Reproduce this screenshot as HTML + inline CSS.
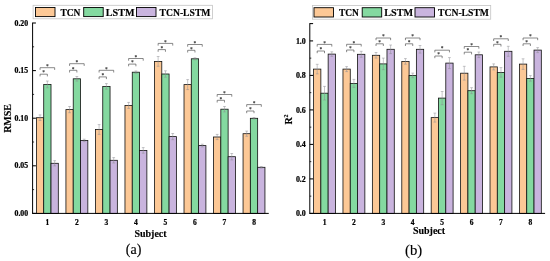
<!DOCTYPE html>
<html><head><meta charset="utf-8"><title>Figure</title>
<style>
html,body{margin:0;padding:0;background:#fff;}
svg{display:block}
text{font-family:"Liberation Serif",serif;fill:#000}
.tk{font-size:7.5px;font-weight:bold;stroke:#000;stroke-width:0.22px}
.lg{font-size:10px;font-weight:bold;stroke:#000;stroke-width:0.15px}
.ax{font-size:10px;font-weight:bold;stroke:#000;stroke-width:0.15px}
.cap{font-size:14px;stroke:#000;stroke-width:0.15px}
.st{font-size:5.5px;text-anchor:middle;fill:#2a2a2a;font-weight:bold}
</style></head><body>
<svg width="550" height="261" viewBox="0 0 550 261">
<rect width="550" height="261" fill="#fff"/>
<rect x="36.41" y="117.70" width="7.3" height="95.70" fill="#FCC896" stroke="#111" stroke-width="0.8"/>
<rect x="43.71" y="84.40" width="7.3" height="129.00" fill="#84D9A0" stroke="#111" stroke-width="0.8"/>
<rect x="51.01" y="163.30" width="7.3" height="50.10" fill="#C9B4DE" stroke="#111" stroke-width="0.8"/>
<path d="M40.06 114.90V120.50M38.66 114.90h2.8M38.66 120.50h2.8" stroke="#8c8c92" stroke-width="0.5" fill="none"/>
<path d="M47.36 81.00V87.80M45.96 81.00h2.8M45.96 87.80h2.8" stroke="#8c8c92" stroke-width="0.5" fill="none"/>
<path d="M54.66 160.70V165.90M53.26 160.70h2.8M53.26 165.90h2.8" stroke="#8c8c92" stroke-width="0.5" fill="none"/>
<path d="M40.06 76.40V74.20H47.36V76.40M40.06 69.90V67.70H54.66V69.90" stroke="#4a4a4a" stroke-width="0.65" fill="none"/>
<text x="43.71" y="74.40" class="st">*</text>
<text x="47.36" y="67.90" class="st">*</text>
<text x="47.36" y="224.60" class="tk" text-anchor="middle">1</text>
<rect x="65.93" y="109.60" width="7.3" height="103.80" fill="#FCC896" stroke="#111" stroke-width="0.8"/>
<rect x="73.23" y="78.80" width="7.3" height="134.60" fill="#84D9A0" stroke="#111" stroke-width="0.8"/>
<rect x="80.53" y="140.40" width="7.3" height="73.00" fill="#C9B4DE" stroke="#111" stroke-width="0.8"/>
<path d="M69.58 106.50V112.70M68.18 106.50h2.8M68.18 112.70h2.8" stroke="#8c8c92" stroke-width="0.5" fill="none"/>
<path d="M76.88 76.50V81.10M75.48 76.50h2.8M75.48 81.10h2.8" stroke="#8c8c92" stroke-width="0.5" fill="none"/>
<path d="M84.18 139.20V141.60M82.78 139.20h2.8M82.78 141.60h2.8" stroke="#8c8c92" stroke-width="0.5" fill="none"/>
<path d="M69.58 72.50V70.30H76.88V72.50M69.58 65.90V63.70H84.18V65.90" stroke="#4a4a4a" stroke-width="0.65" fill="none"/>
<text x="73.23" y="70.50" class="st">*</text>
<text x="76.88" y="63.90" class="st">*</text>
<text x="76.88" y="224.60" class="tk" text-anchor="middle">2</text>
<rect x="95.45" y="129.50" width="7.3" height="83.90" fill="#FCC896" stroke="#111" stroke-width="0.8"/>
<rect x="102.75" y="86.40" width="7.3" height="127.00" fill="#84D9A0" stroke="#111" stroke-width="0.8"/>
<rect x="110.05" y="160.30" width="7.3" height="53.10" fill="#C9B4DE" stroke="#111" stroke-width="0.8"/>
<path d="M99.10 124.60V134.40M97.70 124.60h2.8M97.70 134.40h2.8" stroke="#8c8c92" stroke-width="0.5" fill="none"/>
<path d="M106.40 83.60V89.20M105.00 83.60h2.8M105.00 89.20h2.8" stroke="#8c8c92" stroke-width="0.5" fill="none"/>
<path d="M113.70 157.60V163.00M112.30 157.60h2.8M112.30 163.00h2.8" stroke="#8c8c92" stroke-width="0.5" fill="none"/>
<path d="M99.10 79.10V76.90H106.40V79.10M99.10 72.50V70.30H113.70V72.50" stroke="#4a4a4a" stroke-width="0.65" fill="none"/>
<text x="102.75" y="77.10" class="st">*</text>
<text x="106.40" y="70.50" class="st">*</text>
<text x="106.40" y="224.60" class="tk" text-anchor="middle">3</text>
<rect x="124.97" y="105.40" width="7.3" height="108.00" fill="#FCC896" stroke="#111" stroke-width="0.8"/>
<rect x="132.27" y="72.20" width="7.3" height="141.20" fill="#84D9A0" stroke="#111" stroke-width="0.8"/>
<rect x="139.57" y="150.40" width="7.3" height="63.00" fill="#C9B4DE" stroke="#111" stroke-width="0.8"/>
<path d="M128.62 102.40V108.40M127.22 102.40h2.8M127.22 108.40h2.8" stroke="#8c8c92" stroke-width="0.5" fill="none"/>
<path d="M135.92 71.00V73.40M134.52 71.00h2.8M134.52 73.40h2.8" stroke="#8c8c92" stroke-width="0.5" fill="none"/>
<path d="M143.22 147.60V153.20M141.82 147.60h2.8M141.82 153.20h2.8" stroke="#8c8c92" stroke-width="0.5" fill="none"/>
<path d="M128.62 66.30V64.10H135.92V66.30M128.62 60.70V58.50H143.22V60.70" stroke="#4a4a4a" stroke-width="0.65" fill="none"/>
<text x="132.27" y="64.30" class="st">*</text>
<text x="135.92" y="58.70" class="st">*</text>
<text x="135.92" y="224.60" class="tk" text-anchor="middle">4</text>
<rect x="154.49" y="61.40" width="7.3" height="152.00" fill="#FCC896" stroke="#111" stroke-width="0.8"/>
<rect x="161.79" y="74.00" width="7.3" height="139.40" fill="#84D9A0" stroke="#111" stroke-width="0.8"/>
<rect x="169.09" y="136.60" width="7.3" height="76.80" fill="#C9B4DE" stroke="#111" stroke-width="0.8"/>
<path d="M158.14 56.50V66.30M156.74 56.50h2.8M156.74 66.30h2.8" stroke="#8c8c92" stroke-width="0.5" fill="none"/>
<path d="M165.44 70.80V77.20M164.04 70.80h2.8M164.04 77.20h2.8" stroke="#8c8c92" stroke-width="0.5" fill="none"/>
<path d="M172.74 133.50V139.70M171.34 133.50h2.8M171.34 139.70h2.8" stroke="#8c8c92" stroke-width="0.5" fill="none"/>
<path d="M158.14 51.80V49.60H165.44V51.80M158.14 45.60V43.40H172.74V45.60" stroke="#4a4a4a" stroke-width="0.65" fill="none"/>
<text x="161.79" y="49.80" class="st">*</text>
<text x="165.44" y="43.60" class="st">*</text>
<text x="165.44" y="224.60" class="tk" text-anchor="middle">5</text>
<rect x="184.01" y="84.60" width="7.3" height="128.80" fill="#FCC896" stroke="#111" stroke-width="0.8"/>
<rect x="191.31" y="58.80" width="7.3" height="154.60" fill="#84D9A0" stroke="#111" stroke-width="0.8"/>
<rect x="198.61" y="145.60" width="7.3" height="67.80" fill="#C9B4DE" stroke="#111" stroke-width="0.8"/>
<path d="M187.66 79.60V89.60M186.26 79.60h2.8M186.26 89.60h2.8" stroke="#8c8c92" stroke-width="0.5" fill="none"/>
<path d="M194.96 57.80V59.80M193.56 57.80h2.8M193.56 59.80h2.8" stroke="#8c8c92" stroke-width="0.5" fill="none"/>
<path d="M202.26 144.20V147.00M200.86 144.20h2.8M200.86 147.00h2.8" stroke="#8c8c92" stroke-width="0.5" fill="none"/>
<path d="M187.66 52.50V50.30H194.96V52.50M187.66 46.70V44.50H202.26V46.70" stroke="#4a4a4a" stroke-width="0.65" fill="none"/>
<text x="191.31" y="50.50" class="st">*</text>
<text x="194.96" y="44.70" class="st">*</text>
<text x="194.96" y="224.60" class="tk" text-anchor="middle">6</text>
<rect x="213.53" y="137.00" width="7.3" height="76.40" fill="#FCC896" stroke="#111" stroke-width="0.8"/>
<rect x="220.83" y="109.20" width="7.3" height="104.20" fill="#84D9A0" stroke="#111" stroke-width="0.8"/>
<rect x="228.13" y="156.70" width="7.3" height="56.70" fill="#C9B4DE" stroke="#111" stroke-width="0.8"/>
<path d="M217.18 134.40V139.60M215.78 134.40h2.8M215.78 139.60h2.8" stroke="#8c8c92" stroke-width="0.5" fill="none"/>
<path d="M224.48 106.50V111.90M223.08 106.50h2.8M223.08 111.90h2.8" stroke="#8c8c92" stroke-width="0.5" fill="none"/>
<path d="M231.78 153.50V159.90M230.38 153.50h2.8M230.38 159.90h2.8" stroke="#8c8c92" stroke-width="0.5" fill="none"/>
<path d="M217.18 102.50V100.30H224.48V102.50M217.18 96.70V94.50H231.78V96.70" stroke="#4a4a4a" stroke-width="0.65" fill="none"/>
<text x="220.83" y="100.50" class="st">*</text>
<text x="224.48" y="94.70" class="st">*</text>
<text x="224.48" y="224.60" class="tk" text-anchor="middle">7</text>
<rect x="243.05" y="133.70" width="7.3" height="79.70" fill="#FCC896" stroke="#111" stroke-width="0.8"/>
<rect x="250.35" y="118.30" width="7.3" height="95.10" fill="#84D9A0" stroke="#111" stroke-width="0.8"/>
<rect x="257.65" y="167.30" width="7.3" height="46.10" fill="#C9B4DE" stroke="#111" stroke-width="0.8"/>
<path d="M246.70 131.10V136.30M245.30 131.10h2.8M245.30 136.30h2.8" stroke="#8c8c92" stroke-width="0.5" fill="none"/>
<path d="M254.00 117.50V119.10M252.60 117.50h2.8M252.60 119.10h2.8" stroke="#8c8c92" stroke-width="0.5" fill="none"/>
<path d="M261.30 166.50V168.10M259.90 166.50h2.8M259.90 168.10h2.8" stroke="#8c8c92" stroke-width="0.5" fill="none"/>
<path d="M246.70 113.20V111.00H254.00V113.20M246.70 106.80V104.60H261.30V106.80" stroke="#4a4a4a" stroke-width="0.65" fill="none"/>
<text x="250.35" y="111.20" class="st">*</text>
<text x="254.00" y="104.80" class="st">*</text>
<text x="254.00" y="224.60" class="tk" text-anchor="middle">8</text>
<path d="M32.60 22.60V213.40M32.10 213.40H268.76" stroke="#000" stroke-width="1" fill="none"/>
<path d="M32.60 213.40h3.3" stroke="#000" stroke-width="1.05"/>
<path d="M32.60 165.80h3.3" stroke="#000" stroke-width="1.05"/>
<path d="M32.60 118.20h3.3" stroke="#000" stroke-width="1.05"/>
<path d="M32.60 70.60h3.3" stroke="#000" stroke-width="1.05"/>
<path d="M32.60 23.00h3.3" stroke="#000" stroke-width="1.05"/>
<path d="M32.60 189.60h1.5" stroke="#000" stroke-width="0.8"/>
<path d="M32.60 142.00h1.5" stroke="#000" stroke-width="0.8"/>
<path d="M32.60 94.40h1.5" stroke="#000" stroke-width="0.8"/>
<path d="M32.60 46.80h1.5" stroke="#000" stroke-width="0.8"/>
<text x="14.50" y="216.00" class="tk" textLength="13.7" lengthAdjust="spacingAndGlyphs">0.00</text>
<text x="14.50" y="168.40" class="tk" textLength="13.7" lengthAdjust="spacingAndGlyphs">0.05</text>
<text x="14.50" y="120.80" class="tk" textLength="13.7" lengthAdjust="spacingAndGlyphs">0.10</text>
<text x="14.50" y="73.20" class="tk" textLength="13.7" lengthAdjust="spacingAndGlyphs">0.15</text>
<text x="14.50" y="25.60" class="tk" textLength="13.7" lengthAdjust="spacingAndGlyphs">0.20</text>
<rect x="33.1" y="5.3" width="179.3" height="13.5" fill="#fff" stroke="#c4c4c4" stroke-width="0.8"/>
<rect x="35.50" y="7.50" width="19.5" height="9.1" fill="#FCC896" stroke="#000" stroke-width="0.9"/>
<rect x="83.70" y="7.50" width="19.5" height="9.1" fill="#84D9A0" stroke="#000" stroke-width="0.9"/>
<rect x="136.50" y="7.50" width="19.5" height="9.1" fill="#C9B4DE" stroke="#000" stroke-width="0.9"/>
<text x="60.40" y="15.50" class="lg" textLength="20.0" lengthAdjust="spacingAndGlyphs">TCN</text>
<text x="105.80" y="15.50" class="lg" textLength="28.8" lengthAdjust="spacingAndGlyphs">LSTM</text>
<text x="159.50" y="15.50" class="lg" textLength="51.0" lengthAdjust="spacingAndGlyphs">TCN-LSTM</text>
<text transform="translate(11,118.4) rotate(-90)" class="ax" text-anchor="middle">RMSE</text>
<text x="150.5" y="236.6" class="ax" text-anchor="middle">Subject</text>
<text x="133.6" y="254.1" class="cap" text-anchor="middle">(a)</text>
<rect x="313.56" y="69.10" width="7.3" height="144.30" fill="#FCC896" stroke="#111" stroke-width="0.8"/>
<rect x="320.86" y="93.20" width="7.3" height="120.20" fill="#84D9A0" stroke="#111" stroke-width="0.8"/>
<rect x="328.15" y="54.10" width="7.3" height="159.30" fill="#C9B4DE" stroke="#111" stroke-width="0.8"/>
<path d="M317.20 64.30V73.90M315.81 64.30h2.8M315.81 73.90h2.8" stroke="#8c8c92" stroke-width="0.5" fill="none"/>
<path d="M324.50 86.40V100.00M323.11 86.40h2.8M323.11 100.00h2.8" stroke="#8c8c92" stroke-width="0.5" fill="none"/>
<path d="M331.80 51.80V56.40M330.40 51.80h2.8M330.40 56.40h2.8" stroke="#8c8c92" stroke-width="0.5" fill="none"/>
<path d="M317.20 53.20V51.00H324.50V53.20M317.20 46.60V44.40H331.80V46.60" stroke="#4a4a4a" stroke-width="0.65" fill="none"/>
<text x="320.86" y="51.20" class="st">*</text>
<text x="324.50" y="44.60" class="st">*</text>
<text x="324.50" y="224.60" class="tk" text-anchor="middle">1</text>
<rect x="342.97" y="69.10" width="7.3" height="144.30" fill="#FCC896" stroke="#111" stroke-width="0.8"/>
<rect x="350.27" y="83.40" width="7.3" height="130.00" fill="#84D9A0" stroke="#111" stroke-width="0.8"/>
<rect x="357.56" y="54.30" width="7.3" height="159.10" fill="#C9B4DE" stroke="#111" stroke-width="0.8"/>
<path d="M346.62 66.60V71.60M345.22 66.60h2.8M345.22 71.60h2.8" stroke="#8c8c92" stroke-width="0.5" fill="none"/>
<path d="M353.92 79.40V87.40M352.52 79.40h2.8M352.52 87.40h2.8" stroke="#8c8c92" stroke-width="0.5" fill="none"/>
<path d="M361.21 51.30V57.30M359.81 51.30h2.8M359.81 57.30h2.8" stroke="#8c8c92" stroke-width="0.5" fill="none"/>
<path d="M346.62 52.20V50.00H353.92V52.20M346.62 46.50V44.30H361.21V46.50" stroke="#4a4a4a" stroke-width="0.65" fill="none"/>
<text x="350.26" y="50.20" class="st">*</text>
<text x="353.91" y="44.50" class="st">*</text>
<text x="353.92" y="224.60" class="tk" text-anchor="middle">2</text>
<rect x="372.38" y="55.30" width="7.3" height="158.10" fill="#FCC896" stroke="#111" stroke-width="0.8"/>
<rect x="379.68" y="63.90" width="7.3" height="149.50" fill="#84D9A0" stroke="#111" stroke-width="0.8"/>
<rect x="386.98" y="49.30" width="7.3" height="164.10" fill="#C9B4DE" stroke="#111" stroke-width="0.8"/>
<path d="M376.03 52.50V58.10M374.63 52.50h2.8M374.63 58.10h2.8" stroke="#8c8c92" stroke-width="0.5" fill="none"/>
<path d="M383.33 58.10V69.70M381.93 58.10h2.8M381.93 69.70h2.8" stroke="#8c8c92" stroke-width="0.5" fill="none"/>
<path d="M390.62 45.00V53.60M389.23 45.00h2.8M389.23 53.60h2.8" stroke="#8c8c92" stroke-width="0.5" fill="none"/>
<path d="M376.03 46.00V43.80H383.33V46.00M376.03 40.20V38.00H390.62V40.20" stroke="#4a4a4a" stroke-width="0.65" fill="none"/>
<text x="379.68" y="44.00" class="st">*</text>
<text x="383.33" y="38.20" class="st">*</text>
<text x="383.33" y="224.60" class="tk" text-anchor="middle">3</text>
<rect x="401.79" y="61.40" width="7.3" height="152.00" fill="#FCC896" stroke="#111" stroke-width="0.8"/>
<rect x="409.09" y="75.40" width="7.3" height="138.00" fill="#84D9A0" stroke="#111" stroke-width="0.8"/>
<rect x="416.38" y="49.30" width="7.3" height="164.10" fill="#C9B4DE" stroke="#111" stroke-width="0.8"/>
<path d="M405.44 58.60V64.20M404.04 58.60h2.8M404.04 64.20h2.8" stroke="#8c8c92" stroke-width="0.5" fill="none"/>
<path d="M412.74 73.10V77.70M411.34 73.10h2.8M411.34 77.70h2.8" stroke="#8c8c92" stroke-width="0.5" fill="none"/>
<path d="M420.03 45.50V53.10M418.63 45.50h2.8M418.63 53.10h2.8" stroke="#8c8c92" stroke-width="0.5" fill="none"/>
<path d="M405.44 46.00V43.80H412.74V46.00M405.44 40.20V38.00H420.03V40.20" stroke="#4a4a4a" stroke-width="0.65" fill="none"/>
<text x="409.09" y="44.00" class="st">*</text>
<text x="412.74" y="38.20" class="st">*</text>
<text x="412.74" y="224.60" class="tk" text-anchor="middle">4</text>
<rect x="431.19" y="117.60" width="7.3" height="95.80" fill="#FCC896" stroke="#111" stroke-width="0.8"/>
<rect x="438.50" y="98.10" width="7.3" height="115.30" fill="#84D9A0" stroke="#111" stroke-width="0.8"/>
<rect x="445.79" y="63.10" width="7.3" height="150.30" fill="#C9B4DE" stroke="#111" stroke-width="0.8"/>
<path d="M434.84 113.10V122.10M433.44 113.10h2.8M433.44 122.10h2.8" stroke="#8c8c92" stroke-width="0.5" fill="none"/>
<path d="M442.14 91.50V104.70M440.75 91.50h2.8M440.75 104.70h2.8" stroke="#8c8c92" stroke-width="0.5" fill="none"/>
<path d="M449.44 57.60V68.60M448.04 57.60h2.8M448.04 68.60h2.8" stroke="#8c8c92" stroke-width="0.5" fill="none"/>
<path d="M434.84 58.20V56.00H442.14V58.20M434.84 52.40V50.20H449.44V52.40" stroke="#4a4a4a" stroke-width="0.65" fill="none"/>
<text x="438.50" y="56.20" class="st">*</text>
<text x="442.14" y="50.40" class="st">*</text>
<text x="442.14" y="224.60" class="tk" text-anchor="middle">5</text>
<rect x="460.61" y="73.20" width="7.3" height="140.20" fill="#FCC896" stroke="#111" stroke-width="0.8"/>
<rect x="467.91" y="90.70" width="7.3" height="122.70" fill="#84D9A0" stroke="#111" stroke-width="0.8"/>
<rect x="475.20" y="54.80" width="7.3" height="158.60" fill="#C9B4DE" stroke="#111" stroke-width="0.8"/>
<path d="M464.25 66.30V80.10M462.86 66.30h2.8M462.86 80.10h2.8" stroke="#8c8c92" stroke-width="0.5" fill="none"/>
<path d="M471.56 87.70V93.70M470.16 87.70h2.8M470.16 93.70h2.8" stroke="#8c8c92" stroke-width="0.5" fill="none"/>
<path d="M478.85 52.00V57.60M477.45 52.00h2.8M477.45 57.60h2.8" stroke="#8c8c92" stroke-width="0.5" fill="none"/>
<path d="M464.25 54.40V52.20H471.56V54.40M464.25 48.70V46.50H478.85V48.70" stroke="#4a4a4a" stroke-width="0.65" fill="none"/>
<text x="467.90" y="52.40" class="st">*</text>
<text x="471.55" y="46.70" class="st">*</text>
<text x="471.56" y="224.60" class="tk" text-anchor="middle">6</text>
<rect x="490.02" y="66.90" width="7.3" height="146.50" fill="#FCC896" stroke="#111" stroke-width="0.8"/>
<rect x="497.32" y="72.40" width="7.3" height="141.00" fill="#84D9A0" stroke="#111" stroke-width="0.8"/>
<rect x="504.62" y="51.30" width="7.3" height="162.10" fill="#C9B4DE" stroke="#111" stroke-width="0.8"/>
<path d="M493.67 63.90V69.90M492.27 63.90h2.8M492.27 69.90h2.8" stroke="#8c8c92" stroke-width="0.5" fill="none"/>
<path d="M500.97 67.60V77.20M499.57 67.60h2.8M499.57 77.20h2.8" stroke="#8c8c92" stroke-width="0.5" fill="none"/>
<path d="M508.26 46.30V56.30M506.87 46.30h2.8M506.87 56.30h2.8" stroke="#8c8c92" stroke-width="0.5" fill="none"/>
<path d="M493.67 46.50V44.30H500.97V46.50M493.67 41.00V38.80H508.26V41.00" stroke="#4a4a4a" stroke-width="0.65" fill="none"/>
<text x="497.32" y="44.50" class="st">*</text>
<text x="500.97" y="39.00" class="st">*</text>
<text x="500.97" y="224.60" class="tk" text-anchor="middle">7</text>
<rect x="519.42" y="64.10" width="7.3" height="149.30" fill="#FCC896" stroke="#111" stroke-width="0.8"/>
<rect x="526.73" y="78.40" width="7.3" height="135.00" fill="#84D9A0" stroke="#111" stroke-width="0.8"/>
<rect x="534.02" y="50.10" width="7.3" height="163.30" fill="#C9B4DE" stroke="#111" stroke-width="0.8"/>
<path d="M523.07 58.80V69.40M521.67 58.80h2.8M521.67 69.40h2.8" stroke="#8c8c92" stroke-width="0.5" fill="none"/>
<path d="M530.38 75.60V81.20M528.98 75.60h2.8M528.98 81.20h2.8" stroke="#8c8c92" stroke-width="0.5" fill="none"/>
<path d="M537.67 47.60V52.60M536.27 47.60h2.8M536.27 52.60h2.8" stroke="#8c8c92" stroke-width="0.5" fill="none"/>
<path d="M523.07 46.00V43.80H530.38V46.00M523.07 40.20V38.00H537.67V40.20" stroke="#4a4a4a" stroke-width="0.65" fill="none"/>
<text x="526.72" y="44.00" class="st">*</text>
<text x="530.38" y="38.20" class="st">*</text>
<text x="530.38" y="224.60" class="tk" text-anchor="middle">8</text>
<path d="M309.80 23.20V213.40M309.30 213.40H545.08" stroke="#000" stroke-width="1" fill="none"/>
<path d="M309.80 213.40h3.3" stroke="#000" stroke-width="1.05"/>
<path d="M309.80 178.90h3.3" stroke="#000" stroke-width="1.05"/>
<path d="M309.80 144.40h3.3" stroke="#000" stroke-width="1.05"/>
<path d="M309.80 109.90h3.3" stroke="#000" stroke-width="1.05"/>
<path d="M309.80 75.40h3.3" stroke="#000" stroke-width="1.05"/>
<path d="M309.80 40.90h3.3" stroke="#000" stroke-width="1.05"/>
<path d="M309.80 23.60h3.3" stroke="#000" stroke-width="1.05"/>
<path d="M309.80 196.15h1.5" stroke="#000" stroke-width="0.8"/>
<path d="M309.80 161.65h1.5" stroke="#000" stroke-width="0.8"/>
<path d="M309.80 127.15h1.5" stroke="#000" stroke-width="0.8"/>
<path d="M309.80 92.65h1.5" stroke="#000" stroke-width="0.8"/>
<path d="M309.80 58.15h1.5" stroke="#000" stroke-width="0.8"/>
<text x="295.90" y="216.00" class="tk" textLength="9.9" lengthAdjust="spacingAndGlyphs">0.0</text>
<text x="295.90" y="181.50" class="tk" textLength="9.9" lengthAdjust="spacingAndGlyphs">0.2</text>
<text x="295.90" y="147.00" class="tk" textLength="9.9" lengthAdjust="spacingAndGlyphs">0.4</text>
<text x="295.90" y="112.50" class="tk" textLength="9.9" lengthAdjust="spacingAndGlyphs">0.6</text>
<text x="295.90" y="78.00" class="tk" textLength="9.9" lengthAdjust="spacingAndGlyphs">0.8</text>
<text x="295.90" y="43.50" class="tk" textLength="9.9" lengthAdjust="spacingAndGlyphs">1.0</text>
<rect x="312.5" y="5.5" width="178.2" height="13.7" fill="#fff" stroke="#c4c4c4" stroke-width="0.8"/>
<rect x="314.00" y="7.70" width="19.5" height="9.3" fill="#FCC896" stroke="#000" stroke-width="0.9"/>
<rect x="362.20" y="7.70" width="19.5" height="9.3" fill="#84D9A0" stroke="#000" stroke-width="0.9"/>
<rect x="415.00" y="7.70" width="19.5" height="9.3" fill="#C9B4DE" stroke="#000" stroke-width="0.9"/>
<text x="338.90" y="15.80" class="lg" textLength="20.0" lengthAdjust="spacingAndGlyphs">TCN</text>
<text x="384.30" y="15.80" class="lg" textLength="28.8" lengthAdjust="spacingAndGlyphs">LSTM</text>
<text x="438.00" y="15.80" class="lg" textLength="51.0" lengthAdjust="spacingAndGlyphs">TCN-LSTM</text>
<text transform="translate(291.9,119.5) rotate(-90)" class="ax" text-anchor="middle">R<tspan font-size="6px" dy="-3.6">2</tspan></text>
<text x="429" y="233.6" class="ax" text-anchor="middle">Subject</text>
<text x="405.0" y="254.6" class="cap" style="font-size:14.6px" textLength="17.2" lengthAdjust="spacingAndGlyphs">(b)</text>
</svg></body></html>
